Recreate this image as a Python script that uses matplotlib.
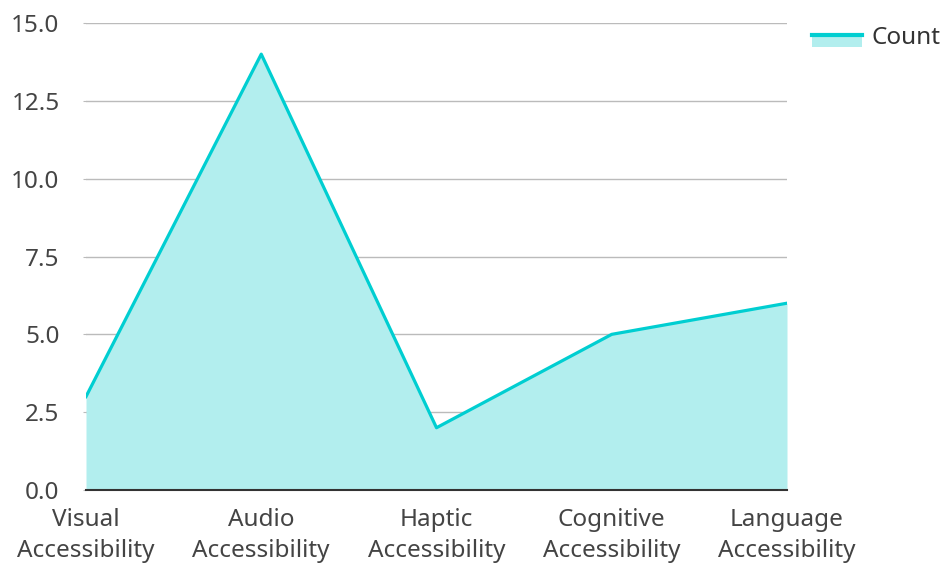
import matplotlib
matplotlib.use("Agg")
import matplotlib.pyplot as plt
from matplotlib.lines import Line2D
from matplotlib.patches import Rectangle

plt.rcParams['font.family'] = ['Noto Sans', 'DejaVu Sans']

categories = ["Visual\nAccessibility", "Audio\nAccessibility", "Haptic\nAccessibility",
              "Cognitive\nAccessibility", "Language\nAccessibility"]
counts = [3, 14, 2, 5, 6]
yticks = [0.0, 2.5, 5.0, 7.5, 10.0, 12.5, 15.0]

line_color = "#00CED1"
fill_color = "#B2EEEE"
W, H = 945, 564

fig = plt.figure(figsize=(W / 100, H / 100), dpi=100)
ax = fig.add_axes([86 / W, 1 - 490 / H, (787 - 86) / W, (490 - 23) / H])

x = list(range(len(categories)))
ax.fill_between(x, counts, 0, color=fill_color, linewidth=0, zorder=2)
ax.plot(x, counts, color=line_color, linewidth=2.3, zorder=3)

ax.set_xlim(0, len(categories) - 1)
ax.set_ylim(0, 15)
ax.set_yticks(yticks)
ax.set_yticklabels([f"{v:.1f}" for v in yticks])
ax.set_xticks(x)
ax.set_xticklabels(categories, linespacing=1.4)

ax.grid(axis='y', color='#BBBBBB', linewidth=1, zorder=1)
for side in ['top', 'right', 'left']:
    ax.spines[side].set_visible(False)
ax.spines['bottom'].set_color('#333333')
ax.spines['bottom'].set_linewidth(1.5)
ax.spines['bottom'].set_zorder(4)

ax.tick_params(axis='y', length=2, color='#BBBBBB', pad=17, labelsize=17.5, labelcolor='#444444')
ax.tick_params(axis='x', length=0, pad=13, labelsize=17.5, labelcolor='#444444')

# legend: line on top of a filled swatch
fig.add_artist(Rectangle((812 / W, 1 - 47 / H), 50 / W, 11 / H,
                         transform=fig.transFigure, facecolor=fill_color, edgecolor='none'))
fig.add_artist(Line2D([812 / W, 862 / W], [1 - 35 / H, 1 - 35 / H],
                      transform=fig.transFigure, color=line_color, linewidth=3))
fig.text(872 / W, 1 - 38 / H, "Count", fontsize=17.5, color='#333333',
         ha='left', va='center')

fig.savefig("out.png", dpi=100)
